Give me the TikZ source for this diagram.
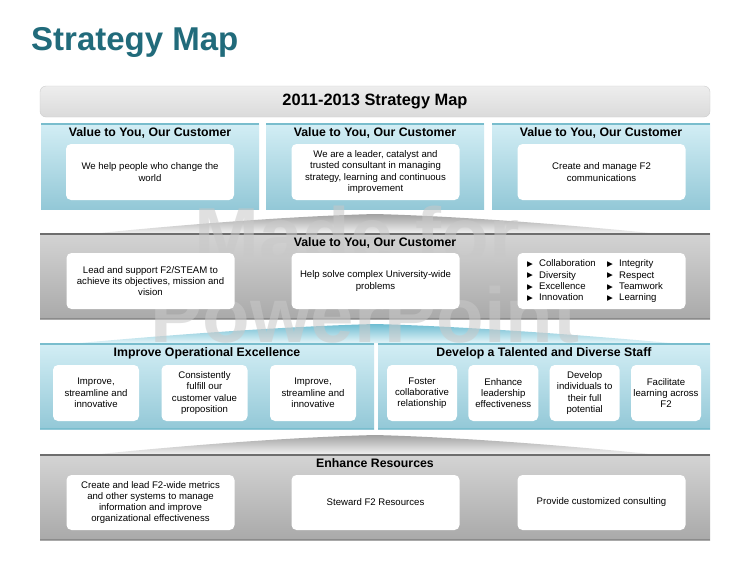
\documentclass[tikz,border=0pt]{standalone}
\usepackage{fontspec}
\setmainfont{Liberation Sans}
\newfontfamily\symfont{DejaVu Sans}
\definecolor{titleteal}{HTML}{216B7B}
\definecolor{bluetop}{HTML}{D3EEF5}
\definecolor{bluebot}{HTML}{93C8D7}
\definecolor{blueline}{HTML}{79BDCD}
\definecolor{graytop}{HTML}{D4D4D4}
\definecolor{graybot}{HTML}{A9A9A9}
\definecolor{grayline}{HTML}{6E6E6E}
\definecolor{hdrfill}{HTML}{E6E6E6}
\definecolor{hdrline}{HTML}{CDCDCD}
\definecolor{wmgray}{HTML}{C8C8C8}
\definecolor{rooftop}{HTML}{A2A2A2}
\definecolor{roofbot}{HTML}{EFEFEF}
\definecolor{broofttop}{HTML}{6FBDD2}
\definecolor{broofbot}{HTML}{E3F4F8}
\newcommand{\bul}{\makebox[12pt][l]{\raisebox{0.2pt}{\symfont\fontsize{7.5}{8}\selectfont ▶}}}
\begin{document}
\begin{tikzpicture}[x=1pt,y=-1pt,
  box/.style={fill=white, rounded corners=5pt, align=center, inner sep=0pt,
    font=\fontsize{9.6}{11.3}\selectfont},
  widebox/.style={box, minimum width=168pt, minimum height=56pt},
  midbox/.style={box, minimum width=86pt, minimum height=56pt},
  narrowbox/.style={box, minimum width=70pt, minimum height=56pt},
  heading/.style={font=\bfseries\fontsize{12.3}{14}\selectfont, inner sep=0pt},
  blueband/.style={top color=bluetop, bottom color=bluebot},
  grayband/.style={top color=graytop, bottom color=graybot},
  grayroof/.style={top color=rooftop, bottom color=roofbot},
  blueroof/.style={top color=broofttop, bottom color=broofbot},
  wmark/.style={font=\bfseries\fontsize{78}{80}\selectfont, text=wmgray,
    text opacity=0.55, inner sep=0pt, anchor=base},
]
\fill[white] (0,0) rectangle (750,563);
\useasboundingbox (0,0) rectangle (750,563);

% title
\node[anchor=base west, inner sep=0pt, text=titleteal,
  font=\bfseries\fontsize{33}{36}\selectfont] (title) at (31,50) {Strategy Map};

% header bar
\node[draw=hdrline, top color=hdrfill!70!white, bottom color=hdrfill!95!black,
  rounded corners=6pt, minimum width=670pt, minimum height=31pt, inner sep=0pt,
  font=\bfseries\fontsize{16.4}{18}\selectfont] (hdr) at (375,101.5) {2011-2013 Strategy Map};

% row 1 panels
\shade[blueband] (41,123) rectangle (259,209);
\shade[blueband] (266,123) rectangle (484,209);
\shade[blueband] (492,123) rectangle (710,209);
\draw[blueline, line width=1.5pt] (41,123.75) -- (259,123.75);
\draw[blueline, line width=1.5pt] (266,123.75) -- (484,123.75);
\draw[blueline, line width=1.5pt] (492,123.75) -- (710,123.75);

% roofs
\shade[grayroof] (100,233) .. controls (200,223) and (300,216) .. (375,214)
  .. controls (450,216) and (550,223) .. (650,233) -- cycle;
\shade[blueroof] (80,343) .. controls (190,333) and (300,326) .. (375,324)
  .. controls (450,326) and (560,333) .. (670,343) -- cycle;
\shade[grayroof] (100,454) .. controls (200,444) and (300,437) .. (375,435)
  .. controls (450,437) and (550,444) .. (650,454) -- cycle;

% row 2 band
\shade[grayband] (40,233) rectangle (710,319);
\draw[grayline, line width=1.5pt] (40,233.75) -- (710,233.75);
\draw[grayline!80, line width=1pt] (40,318.5) -- (710,318.5);

% row 3 band
\shade[blueband] (40,343) rectangle (374,429);
\shade[blueband] (378,343) rectangle (710,429);
\draw[blueline, line width=1.5pt] (40,343.75) -- (374,343.75);
\draw[blueline, line width=1.5pt] (378,343.75) -- (710,343.75);
\draw[blueline, line width=1pt] (40,428.5) -- (374,428.5);
\draw[blueline, line width=1pt] (378,428.5) -- (710,428.5);

% row 4 band
\shade[grayband] (40,454) rectangle (710,540);
\draw[grayline, line width=1.5pt] (40,454.75) -- (710,454.75);
\draw[grayline!80, line width=1pt] (40,539.5) -- (710,539.5);

% watermark
\node[wmark] (wm1) at (357,262) {Made for};
\node[wmark] (wm2) at (365,342) {PowerPoint};

% row 1
\node[heading] (h11) at (150,133) {Value to You, Our Customer};
\node[heading] (h12) at (375,133) {Value to You, Our Customer};
\node[heading] (h13) at (601,133) {Value to You, Our Customer};
\node[widebox] (b11) at (150,172) {We help people who change the\\world};
\node[widebox] (b12) at (375.5,172) {We are a leader, catalyst and\\trusted consultant in managing\\strategy, learning and continuous\\improvement};
\node[widebox] (b13) at (601.5,172) {Create and manage F2\\communications};

% row 2
\node[heading] (h2) at (375,243) {Value to You, Our Customer};
\node[widebox] (b21) at (150.5,281) {Lead and support F2/STEAM to\\achieve its objectives, mission and\\vision};
\node[widebox] (b22) at (375.5,281) {Help solve complex University-wide\\problems};
\node[widebox] (b23) at (601.5,281) {};
\node[anchor=west, inner sep=0pt, font=\fontsize{9.6}{11.3}\selectfont] (vals) at (527,281.5)
  {\begin{tabular}{@{}l@{}l@{}}
   \bul\makebox[68pt][l]{Collaboration} & \bul Integrity\\
   \bul\makebox[68pt][l]{Diversity} & \bul Respect\\
   \bul\makebox[68pt][l]{Excellence} & \bul Teamwork\\
   \bul\makebox[68pt][l]{Innovation} & \bul Learning
   \end{tabular}};

% row 3
\node[heading] (h31) at (207,353) {Improve Operational Excellence};
\node[heading] (h32) at (544,353) {Develop a Talented and Diverse Staff};
\node[midbox] (b31) at (96,393) {Improve,\\streamline and\\innovative};
\node[midbox] (b32) at (204.5,393) {Consistently\\fulfill our\\customer value\\proposition};
\node[midbox] (b33) at (313,393) {Improve,\\streamline and\\innovative};
\node[narrowbox] (b34) at (422,393) {Foster\\collaborative\\relationship};
\node[narrowbox] (b35) at (503.3,393) {Enhance\\leadership\\effectiveness};
\node[narrowbox] (b36) at (584.7,393) {Develop\\individuals to\\their full\\potential};
\node[narrowbox] (b37) at (666,393) {Facilitate\\learning across\\F2};

% row 4
\node[heading] (h4) at (375,463.5) {Enhance Resources};
\node[widebox, minimum height=55pt] (b41) at (150.5,502.5) {Create and lead F2-wide metrics\\and other systems to manage\\information and improve\\organizational effectiveness};
\node[widebox, minimum height=55pt] (b42) at (375.5,502.5) {Steward F2 Resources};
\node[widebox, minimum height=55pt] (b43) at (601.5,502.5) {Provide customized consulting};
\end{tikzpicture}
\end{document}
